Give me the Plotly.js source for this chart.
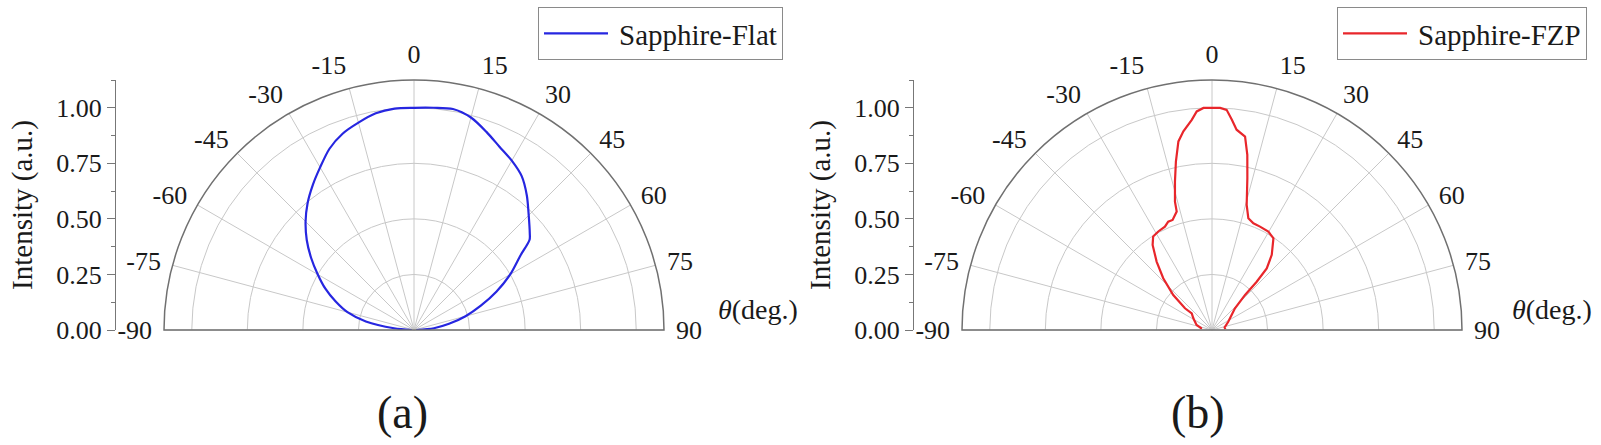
<!DOCTYPE html>
<html>
<head>
<meta charset="utf-8">
<script src="https://cdn.plot.ly/plotly-3.0.1.min.js"></script>
<style>
#chart text { font-family: "Liberation Serif", serif !important; }
#chart .legendlines path { d: path("M5,0 h64") !important; }
</style>
</head>
<body style="margin:0">
<div id="chart" style="width:1601px;height:445px"></div>
<script>
// ---- data ----
const angleTicks = [-90, -75, -60, -45, -30, -15, 0, 15, 30, 45, 60, 75, 90];
const angleTickText = ['-90', '-75', '-60', '-45', '-30', '-15', '0', '15', '30', '45', '60', '75', '90'];
const intensityTicks = [0, 0.25, 0.5, 0.75, 1.0];
const intensityRange = [0, 1.125];

const flatName = 'Sapphire-Flat';
const thetaFlat = [-90, -85, -80, -75, -70, -65, -60, -55, -50, -45, -40, -35, -30, -25, -20, -15, -10, -5, 0, 5, 10, 15, 20, 25, 30, 35, 40, 45, 50, 52, 55, 60, 65, 70, 75, 80, 85, 90];
const rFlat = [0.01, 0.09, 0.22, 0.31, 0.375, 0.44, 0.5, 0.565, 0.63, 0.69, 0.745, 0.795, 0.845, 0.9, 0.94, 0.966, 0.99, 1.0, 1.0, 1.004, 1.01, 0.99, 0.95, 0.91, 0.88, 0.845, 0.79, 0.73, 0.68, 0.66, 0.585, 0.5, 0.41, 0.32, 0.24, 0.16, 0.09, 0.01];

const fzpName = 'Sapphire-FZP';
const thetaFZP = [-86, -80, -72, -58, -50.6, -51.2, -47.9, -43.3, -39, -34.9, -32.2, -28.6, -24.5, -22, -19.7, -16.6, -16.1, -14, -12.1, -10.1, -8.2, -5.5, -4, -2.2, 0, 2.1, 3.8, 5.4, 7, 9.7, 11.4, 13.1, 15.5, 18, 21.2, 24.9, 29.8, 33.8, 38.5, 41.6, 42.8, 43.3, 46.7, 52.7, 63, 78, 86];
const rFZP = [0.05, 0.05, 0.073, 0.099, 0.118, 0.156, 0.235, 0.32, 0.396, 0.467, 0.497, 0.505, 0.511, 0.526, 0.526, 0.556, 0.601, 0.689, 0.775, 0.862, 0.903, 0.95, 0.986, 1.0, 1.0, 1.0, 0.993, 0.95, 0.908, 0.883, 0.804, 0.702, 0.584, 0.529, 0.515, 0.513, 0.51, 0.497, 0.432, 0.371, 0.296, 0.217, 0.142, 0.111, 0.082, 0.058, 0.06];

// ---- styling ----
const FONT = 'Liberation Serif';
const W = 1601, H = 445;
const px = v => v / W;
const py = v => 1 - v / H;

function polarLayout(x0, x1) {
  return {
    domain: {x: [px(x0), px(x1)], y: [py(330), py(80)]},
    sector: [0, 180],
    bgcolor: '#ffffff',
    radialaxis: {
      range: intensityRange, tickvals: intensityTicks, showticklabels: false,
      ticks: '', showline: false, gridcolor: '#c8c8c8', gridwidth: 1
    },
    angularaxis: {
      rotation: 90, direction: 'clockwise', thetaunit: 'degrees',
      tickmode: 'array', tickvals: angleTicks, ticktext: angleTickText,
      ticks: 'outside', ticklen: 6, tickcolor: 'rgba(0,0,0,0)',
      showline: true, linecolor: '#707070', linewidth: 1.5,
      gridcolor: '#c8c8c8', gridwidth: 1,
      tickfont: {family: FONT, size: 26, color: '#1a1a1a'}
    }
  };
}

function yLayout(pos) {
  return {
    domain: [py(330), py(80)], range: intensityRange, anchor: 'free', position: px(pos),
    tickvals: intensityTicks, tickformat: '.2f', ticks: 'outside', ticklen: 8,
    tickcolor: '#777', showline: true, linecolor: '#777', linewidth: 1.2,
    showgrid: false, zeroline: false,
    minor: {dtick: 0.125, tick0: 0, ticks: 'outside', ticklen: 4, tickcolor: '#777', showgrid: false},
    tickfont: {family: FONT, size: 26, color: '#1a1a1a'},
    title: {text: 'Intensity (a.u.)', font: {family: FONT, size: 29, color: '#1a1a1a'}, standoff: 14}
  };
}

const traces = [
  {type: 'scatterpolar', subplot: 'polar', theta: thetaFlat, r: rFlat, mode: 'lines', name: flatName,
   line: {color: '#2626e0', width: 2.2, shape: 'spline', smoothing: 0.8}, legend: 'legend'},
  {type: 'scatterpolar', subplot: 'polar2', theta: thetaFZP, r: rFZP, mode: 'lines', name: fzpName,
   line: {color: '#e8262b', width: 2.2}, legend: 'legend2'},
  {type: 'scatter', xaxis: 'x', yaxis: 'y', x: intensityTicks.map(() => 0), y: intensityTicks,
   mode: 'markers', marker: {opacity: 0}, showlegend: false, hoverinfo: 'skip'},
  {type: 'scatter', xaxis: 'x2', yaxis: 'y2', x: intensityTicks.map(() => 0), y: intensityTicks,
   mode: 'markers', marker: {opacity: 0}, showlegend: false, hoverinfo: 'skip'}
];

const legendStyle = {
  yanchor: 'top', xanchor: 'left', y: py(7),
  bgcolor: '#ffffff', bordercolor: '#8a8a8a', borderwidth: 1,
  font: {family: FONT, size: 29, color: '#1a1a1a'}, itemwidth: 70
};

const layout = {
  width: W, height: H,
  margin: {l: 0, r: 0, t: 0, b: 0},
  font: {family: FONT, color: '#1a1a1a'},
  paper_bgcolor: '#ffffff', plot_bgcolor: 'rgba(0,0,0,0)',
  showlegend: true,
  polar: polarLayout(164, 664),
  polar2: polarLayout(962, 1462),
  xaxis: {domain: [0, 0.01], visible: false, anchor: 'y'},
  xaxis2: {domain: [0.5, 0.51], visible: false, anchor: 'y2'},
  yaxis: yLayout(115),
  yaxis2: yLayout(913),
  legend: Object.assign({x: px(538)}, legendStyle),
  legend2: Object.assign({x: px(1337)}, legendStyle),
  annotations: [
    {xref: 'paper', yref: 'paper', x: px(716), y: py(309), xanchor: 'left', yanchor: 'middle', showarrow: false,
     text: '<i>θ</i>(deg.)', font: {family: FONT, size: 28, color: '#1a1a1a'}},
    {xref: 'paper', yref: 'paper', x: px(1510), y: py(309), xanchor: 'left', yanchor: 'middle', showarrow: false,
     text: '<i>θ</i>(deg.)', font: {family: FONT, size: 28, color: '#1a1a1a'}},
    {xref: 'paper', yref: 'paper', x: px(402), y: py(412), xanchor: 'center', yanchor: 'middle', showarrow: false,
     text: '(a)', font: {family: FONT, size: 46, color: '#1a1a1a'}},
    {xref: 'paper', yref: 'paper', x: px(1198), y: py(412), xanchor: 'center', yanchor: 'middle', showarrow: false,
     text: '(b)', font: {family: FONT, size: 46, color: '#1a1a1a'}}
  ]
};

Plotly.newPlot('chart', traces, layout, {displayModeBar: false});
</script>
</body>
</html>
